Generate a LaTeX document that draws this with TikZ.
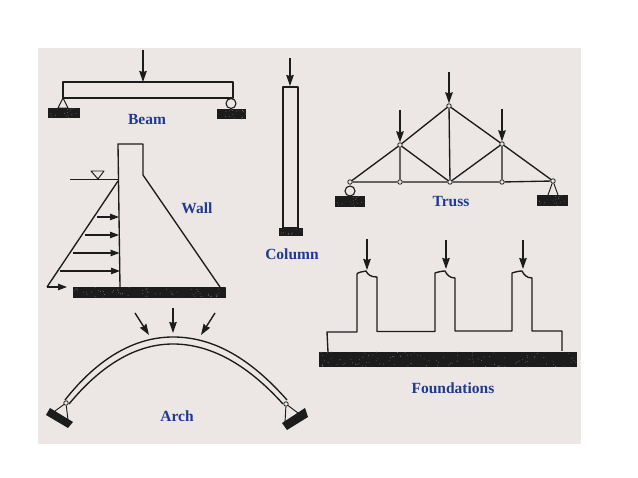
\documentclass[tikz,border=0pt]{standalone}
\usepackage{fontspec}
\setmainfont{Liberation Serif}
\usetikzlibrary{arrows.meta}
\definecolor{panel}{HTML}{ECE7E5}
\definecolor{ink}{HTML}{1C1C1C}
\definecolor{labelblue}{HTML}{1F3A8F}
\definecolor{speck}{HTML}{777777}
\tikzset{
  line/.style={draw=ink,line width=1.35pt,line join=round},
  thinline/.style={draw=ink,line width=0.95pt,line join=round},
  load/.style={draw=ink,line width=1.4pt,-{Stealth[length=11pt,width=7.5pt,inset=1pt]}},
  smallload/.style={draw=ink,line width=1.1pt,-{Stealth[length=9pt,width=6.5pt,inset=0.5pt]}},
  ground/.style={fill=ink,draw=none},
  hinge/.style={circle,draw=ink,fill=panel,line width=0.8pt,inner sep=0pt,minimum size=4.5pt},
  roller/.style={circle,draw=ink,fill=panel,line width=1.1pt,inner sep=0pt,minimum size=10pt},
  caption/.style={text=labelblue,font=\fontsize{15.5}{17}\selectfont\bfseries,inner sep=0pt},
}
\newcommand{\specks}[5]{% x0 y0 width height count
  \pgfmathsetseed{#5}%
  \foreach \i in {1,...,#5}{%
    \pgfmathsetmacro{\px}{#1+rnd*#3}\pgfmathsetmacro{\py}{#2+rnd*#4}%
    \fill[speck] (\px,\py) circle (0.45pt);}%
}
\begin{document}
\begin{tikzpicture}[x=1pt,y=-1pt]
\useasboundingbox (0,0) rectangle (638,478);
\fill[panel] (38,48) rectangle (581,444);

% Beam
\draw[line] (63,82) rectangle (233,98);
\coordinate (beamload) at (143,82);
\draw[load] (143,50) -- (beamload);
\draw[thinline] (63,98) -- (58,108) -- (68,108) -- cycle;
\fill[ground] (48,108) rectangle (80,118);
\specks{48}{108}{32}{10}{14}
\fill[ground] (217,109) rectangle (246,119);
\specks{217}{109}{29}{10}{15}
\node[roller] (beamroller) at (231,103.5) {};
\node[caption] (beamlabel) at (147,120) {Beam};

% Wall
\draw[line] (120,287) -- (118,144) -- (143,144) -- (143,175) -- (220,287);
\draw[thinline] (70,179) -- (118,179);
\draw[thinline] (91,171) -- (104,171) -- (98,179) -- cycle;
\draw[line] (118,181) -- (47,287);
\draw[smallload] (97,217) -- (119,217);
\draw[smallload] (85,235) -- (119,235);
\draw[smallload] (73,253) -- (119.5,253);
\draw[smallload] (60,271) -- (120,271);
\draw[smallload] (47,287) -- (67,287);
\fill[ground] (73,287.5) rectangle (226,298);
\specks{73}{287.5}{153}{10.5}{60}
\node[caption] (walllabel) at (197,208) {Wall};

% Column
\draw[line] (283,87) rectangle (298,228);
\draw[load] (290,58) -- (290,86);
\fill[ground] (279,228) rectangle (303,236);
\specks{279}{228}{24}{8}{8}
\node[caption] (columnlabel) at (292,254) {Column};

% Truss
\node[hinge] (tl) at (350,182) {};
\node[hinge] (tb1) at (400,182) {};
\node[hinge] (tc) at (450,182) {};
\node[hinge] (tb3) at (502,182) {};
\node[hinge] (tr) at (553,181) {};
\node[hinge] (ttop) at (449,106) {};
\node[hinge] (tu1) at (400,145) {};
\node[hinge] (tu2) at (502,144) {};
\draw[line] (tl) -- (tb1) (tb1) -- (tc) (tc) -- (tb3) (tb3) -- (tr)
  (tl) -- (tu1) (tu1) -- (ttop) (ttop) -- (tu2) (tu2) -- (tr)
  (tu1) -- (tb1) (ttop) -- (tc) (tu2) -- (tb3) (tu1) -- (tc) (tu2) -- (tc);
\draw[load] (449,72) -- (ttop);
\draw[load] (400,110) -- (tu1);
\draw[load] (502,109) -- (tu2);
\node[roller] (troller) at (350,191) {};
\fill[ground] (335,196) rectangle (365,207);
\specks{335}{196}{30}{11}{14}
\draw[thinline] (tr) -- (548,195) (tr) -- (558,195);
\fill[ground] (537,195) rectangle (568,206);
\specks{537}{195}{31}{11}{14}
\node[caption] (trusslabel) at (451,202) {Truss};

% Foundations
\draw[line] (328,352) -- (327,332) -- (357,332) -- (357,274)
  .. controls (358,272) and (362,272) .. (366,271)
  .. controls (368,275) and (371,277) .. (377,277)
  -- (377,331.5) -- (435,331.5) -- (435,273)
  .. controls (438,272) and (442,271) .. (445,271)
  .. controls (447,275) and (450,278) .. (455,278)
  -- (455,331) -- (512,331) -- (512,273)
  .. controls (515,272) and (519,271) .. (522,271)
  .. controls (524,275) and (527,278) .. (532,278)
  -- (532,331) -- (562,331) -- (562,351);
\draw[load] (367,239) -- (367,270);
\draw[load] (446,240) -- (446,269);
\draw[load] (523,240) -- (523,269);
\fill[ground] (319,352) rectangle (577,367);
\specks{319}{352}{258}{15}{110}
\node[caption] (foundlabel) at (453,388) {Foundations};

% Arch
\draw[line] (65,400) .. controls (98,358) and (135,337) .. (173,337)
  .. controls (213,337) and (250,358) .. (287,400);
\draw[line] (69,404) .. controls (102,364) and (137,344) .. (173,344)
  .. controls (210,344) and (247,364) .. (283,404);
\draw[load] (135,313) -- (149,335);
\draw[load] (173,308) -- (173,333);
\draw[load] (215,313) -- (201,335);
\node[hinge] (archl) at (66,403) {};
\node[hinge] (archr) at (286,404) {};
\draw[thinline] (archl) -- (55,411) (archl) -- (68,420);
\draw[thinline] (archr) -- (285,423) (archr) -- (298,413);
\fill[ground] (50,408) -- (73,422) -- (68,428) -- (46,415) -- cycle;
\fill[ground] (305,408) -- (308,417) -- (287,430) -- (282,423) -- cycle;
\node[caption] (archlabel) at (177,416) {Arch};
\end{tikzpicture}
\end{document}
